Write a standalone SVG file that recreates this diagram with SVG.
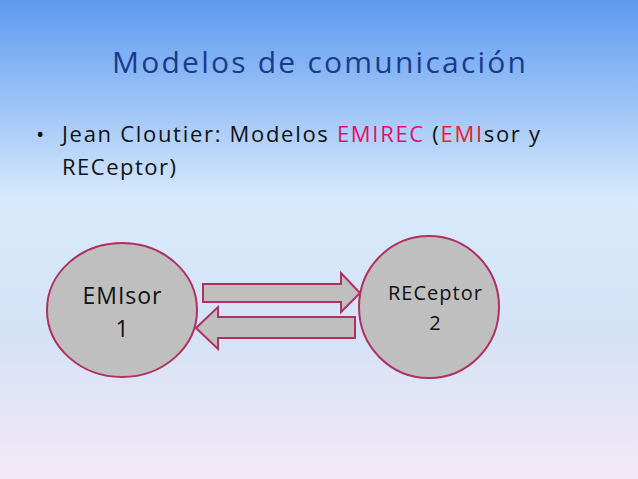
<svg xmlns="http://www.w3.org/2000/svg" width="638" height="479" viewBox="0 0 638 479">
<defs>
<linearGradient id="bg" x1="0" y1="0" x2="0" y2="1">
<stop offset="0" stop-color="#5d9af0"/>
<stop offset="0.42" stop-color="#d8eafc"/>
<stop offset="0.7" stop-color="#d4e2f6"/>
<stop offset="1" stop-color="#f4e8f6"/>
</linearGradient>
<style>
.t{font-family:"Open Sans","Liberation Sans",sans-serif}
.n{fill:#bfbfbf;stroke:#b03060;stroke-width:2}
.a{fill:#bfbfbf;stroke:#b03060;stroke-width:2}
.r{fill:#e0106a}
.rr{fill:#e8202a}
</style>
</defs>
<rect width="638" height="479" fill="url(#bg)"/>
<text class="t" x="319" y="73" font-size="30" fill="#1c3a8a" text-anchor="middle" textLength="414">Modelos de comunicación</text>
<text class="t" x="36" y="142" font-size="22" fill="#111">•</text>
<text class="t" x="62" y="142" font-size="22" fill="#111" textLength="478">Jean Cloutier: Modelos <tspan class="r">EMIREC</tspan> (<tspan class="rr">EMI</tspan>sor y</text>
<text class="t" x="62" y="175" font-size="22" fill="#111" textLength="114">REC<tspan fill="#111">eptor)</tspan></text>
<g id="connectors">
<polygon class="a" points="203,284 341,284 341,273 360,293 341,312 341,302 203,302"/>
<polygon class="a" points="355,317 218,317 218,307 196,328 218,349 218,338 355,338"/>
</g>
<g id="emisor">
<ellipse class="n" cx="122" cy="310" rx="75" ry="67"/>
<text class="t" x="122" y="304" font-size="23" fill="#111" text-anchor="middle" textLength="79">EMIsor</text>
<text class="t" x="122" y="337" font-size="23" fill="#111" text-anchor="middle">1</text>
</g>
<g id="receptor">
<ellipse class="n" cx="429" cy="307" rx="70" ry="71"/>
<text class="t" x="435" y="300" font-size="20" fill="#111" text-anchor="middle" textLength="94">RECeptor</text>
<text class="t" x="435" y="330" font-size="20" fill="#111" text-anchor="middle">2</text>
</g>
</svg>
